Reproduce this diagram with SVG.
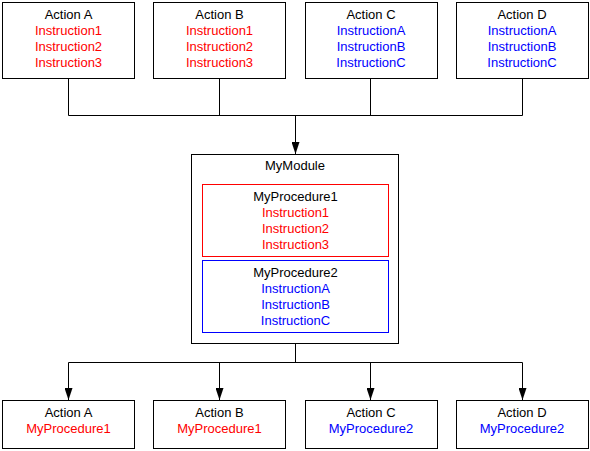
<svg xmlns="http://www.w3.org/2000/svg" width="590" height="451" viewBox="0 0 590 451">
<defs>
<style>
.box{fill:#fff;stroke:#000;stroke-width:1}
.rb{fill:none;stroke:#f00;stroke-width:1}
.bb{fill:none;stroke:#00f;stroke-width:1}
text{font-family:"Liberation Sans",Arial,sans-serif;font-size:13px;text-anchor:middle}
.k{fill:#000}.r{fill:#f00}.b{fill:#00f}
.c{fill:none;stroke:#000;stroke-width:1}
</style>
<marker id="ah" viewBox="0 0 12 8" refX="12" refY="4" markerWidth="12" markerHeight="8" markerUnits="userSpaceOnUse" orient="auto">
<path d="M0,0 L12,4 L0,8 Z" fill="#000"/>
</marker>
</defs>
<rect width="590" height="451" fill="#fff"/>
<g id="connectors">
<path class="c" d="M68.5,78 V115.5 H522.5 V78 M219.5,78 V115.5 M370.5,78 V115.5"/>
<path class="c" d="M295.5,115.5 V154" marker-end="url(#ah)"/>
<path class="c" d="M295.5,343 V362.5 M68.5,362.5 H522.5"/>
<path class="c" d="M68.5,362.5 V400" marker-end="url(#ah)"/>
<path class="c" d="M219.5,362.5 V400" marker-end="url(#ah)"/>
<path class="c" d="M370.5,362.5 V400" marker-end="url(#ah)"/>
<path class="c" d="M522.5,362.5 V400" marker-end="url(#ah)"/>
</g>
<g id="actionA_top">
<rect class="box" x="2.5" y="2.5" width="132" height="76"/>
<text class="k" x="68.5" y="19">Action A</text>
<text class="r" x="68.5" y="35">Instruction1</text>
<text class="r" x="68.5" y="51">Instruction2</text>
<text class="r" x="68.5" y="67">Instruction3</text>
</g>
<g id="actionB_top">
<rect class="box" x="153.5" y="2.5" width="132" height="76"/>
<text class="k" x="219.5" y="19">Action B</text>
<text class="r" x="219.5" y="35">Instruction1</text>
<text class="r" x="219.5" y="51">Instruction2</text>
<text class="r" x="219.5" y="67">Instruction3</text>
</g>
<g id="actionC_top">
<rect class="box" x="305.5" y="2.5" width="132" height="76"/>
<text class="k" x="371" y="19">Action C</text>
<text class="b" x="371" y="35">InstructionA</text>
<text class="b" x="371" y="51">InstructionB</text>
<text class="b" x="371" y="67">InstructionC</text>
</g>
<g id="actionD_top">
<rect class="box" x="456.5" y="2.5" width="132" height="76"/>
<text class="k" x="522" y="19">Action D</text>
<text class="b" x="522" y="35">InstructionA</text>
<text class="b" x="522" y="51">InstructionB</text>
<text class="b" x="522" y="67">InstructionC</text>
</g>
<g id="myModule">
<rect class="box" x="191.5" y="154.5" width="207" height="189"/>
<text class="k" x="295" y="170">MyModule</text>
<g id="myProcedure1">
<rect class="rb" x="202.5" y="184.5" width="186" height="72"/>
<text class="k" x="295.5" y="201">MyProcedure1</text>
<text class="r" x="295.5" y="217">Instruction1</text>
<text class="r" x="295.5" y="233">Instruction2</text>
<text class="r" x="295.5" y="249">Instruction3</text>
</g>
<g id="myProcedure2">
<rect class="bb" x="202.5" y="260.5" width="186" height="72"/>
<text class="k" x="295.5" y="277">MyProcedure2</text>
<text class="b" x="295.5" y="293">InstructionA</text>
<text class="b" x="295.5" y="309">InstructionB</text>
<text class="b" x="295.5" y="325">InstructionC</text>
</g>
</g>
<g id="actionA_bottom">
<rect class="box" x="2.5" y="400.5" width="132" height="48"/>
<text class="k" x="68.5" y="417">Action A</text>
<text class="r" x="68.5" y="433">MyProcedure1</text>
</g>
<g id="actionB_bottom">
<rect class="box" x="153.5" y="400.5" width="132" height="48"/>
<text class="k" x="219.5" y="417">Action B</text>
<text class="r" x="219.5" y="433">MyProcedure1</text>
</g>
<g id="actionC_bottom">
<rect class="box" x="305.5" y="400.5" width="132" height="48"/>
<text class="k" x="371" y="417">Action C</text>
<text class="b" x="371" y="433">MyProcedure2</text>
</g>
<g id="actionD_bottom">
<rect class="box" x="456.5" y="400.5" width="132" height="48"/>
<text class="k" x="522" y="417">Action D</text>
<text class="b" x="522" y="433">MyProcedure2</text>
</g>
</svg>
